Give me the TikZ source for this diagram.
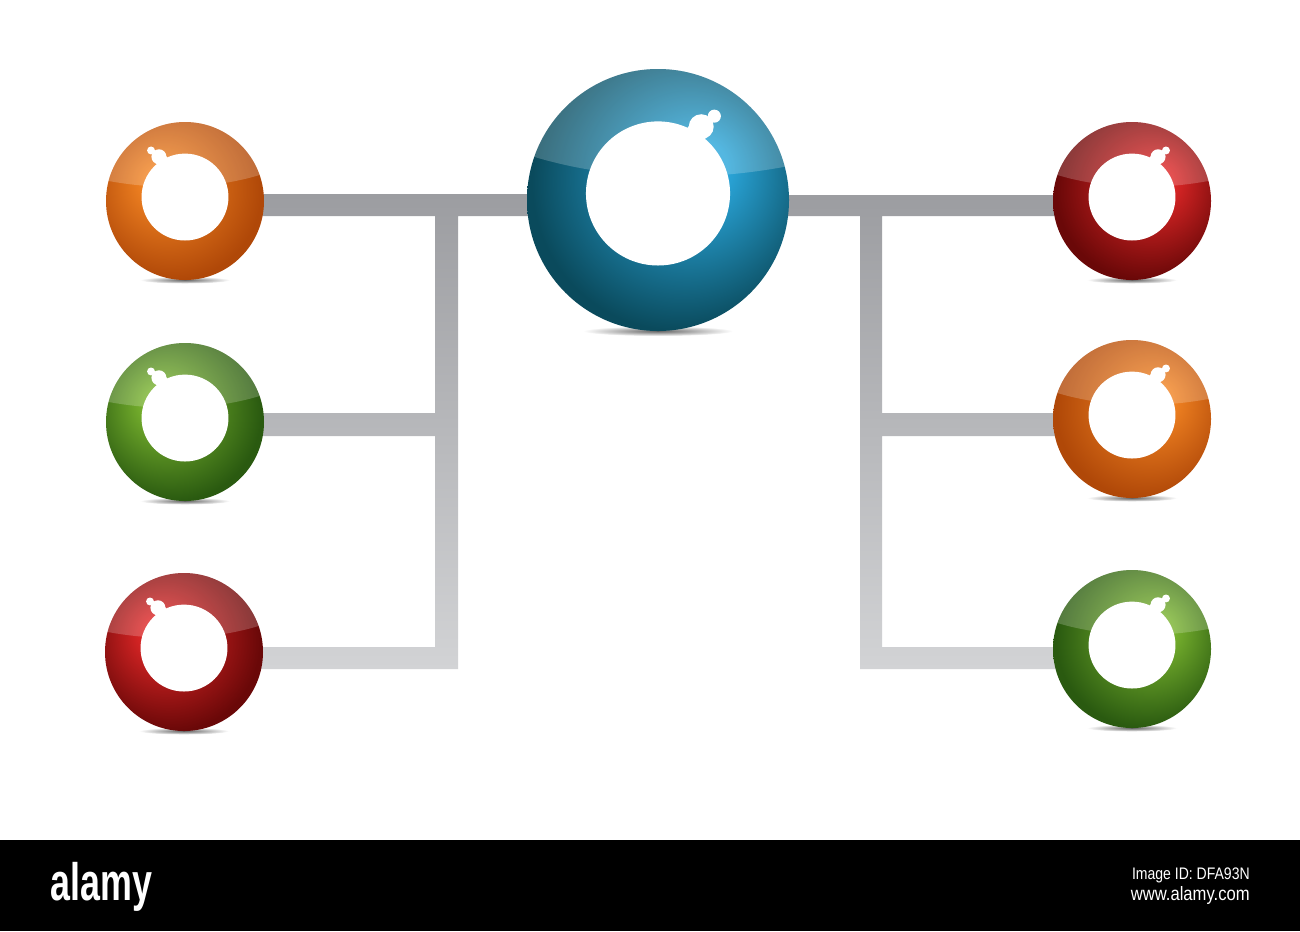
\documentclass[tikz,border=0pt]{standalone}
\usepackage{fontspec}
\newfontfamily\bandfont{Liberation Sans}
\usetikzlibrary{calc,backgrounds}
\definecolor{bluL}{HTML}{2AA6DA}\definecolor{bluD}{HTML}{0A4A5C}
\definecolor{orL}{HTML}{F08222}\definecolor{orD}{HTML}{B04808}
\definecolor{grL}{HTML}{78B22E}\definecolor{grD}{HTML}{2A5A10}
\definecolor{reL}{HTML}{DC2626}\definecolor{reD}{HTML}{6A0808}
\definecolor{barTop}{HTML}{9C9DA1}\definecolor{barMid}{HTML}{ABACB0}\definecolor{barBot}{HTML}{D2D3D5}
\colorlet{sphL}{white}\colorlet{sphD}{black}
\pgfdeclareradialshading[sphL,sphD]{sphRt}{\pgfpoint{9bp}{7bp}}{color(0bp)=(sphL);color(5bp)=(sphL);color(28bp)=(sphD);color(50bp)=(sphD)}
\pgfdeclareradialshading[sphL,sphD]{sphLt}{\pgfpoint{-9bp}{7bp}}{color(0bp)=(sphL);color(5bp)=(sphL);color(28bp)=(sphD);color(50bp)=(sphD)}
\tikzset{
  sphcol/.code 2 args={\colorlet{sphL}{#1}\colorlet{sphD}{#2}},
  sph/.style n args={5}{circle, inner sep=0pt, minimum size={2*#1*0.02cm}, shade, shading=#5, sphcol={#2}{#3},
    path picture={
      \coordinate (pc) at (path picture bounding box.center);
      \fill[white, fill opacity=.2] ($(pc)+(-1.1*#1,{-(0.33+0.05*#4)*#1})$) .. controls ($(pc)+(-0.4*#1,-0.13*#1)$) and ($(pc)+(0.4*#1,-0.13*#1)$) .. ($(pc)+(1.1*#1,{-(0.33-0.05*#4)*#1})$) -- ($(pc)+(1.1*#1,-1.1*#1)$) -- ($(pc)+(-1.1*#1,-1.1*#1)$) -- cycle;
      \fill[white] ($(pc)+(0,-0.05*#1)$) circle[radius=0.55*#1];
      \fill[white] ($(pc)+({#4*0.33*#1},-0.56*#1)$) circle[radius=0.095*#1];
      \fill[white] ($(pc)+({#4*0.30*#1},-0.52*#1)$) circle[radius=0.08*#1];
      \fill[white] ($(pc)+({#4*0.43*#1},-0.64*#1)$) circle[radius=0.05*#1];
    }},
  bar/.style={top color=barTop, middle color=barMid, bottom color=barBot},
  shadow/.style={inner color=black!60, outer color=white},
}
\begin{document}
\begin{tikzpicture}[x=0.02cm,y=-0.02cm]
\useasboundingbox (0,0) rectangle (1300,931);
% shadows
\shade[shadow] (658,331) ellipse[x radius=75, y radius=5];
\foreach \cx/\cy in {185/280,185/501,184/731,1132/280,1132/498,1132/728}
  \shade[shadow] (\cx,\cy) ellipse[x radius=45, y radius=3.5];
% spheres
\node[sph={131}{bluL}{bluD}{1}{sphRt}] (C) at (658,200) {};
\node[sph={79}{orL}{orD}{-1}{sphLt}] (L1) at (185,201) {};
\node[sph={79}{grL}{grD}{-1}{sphLt}] (L2) at (185,422) {};
\node[sph={79}{reL}{reD}{-1}{sphLt}] (L3) at (184,652) {};
\node[sph={79}{reL}{reD}{1}{sphRt}] (R1) at (1132,201) {};
\node[sph={79}{orL}{orD}{1}{sphRt}] (R2) at (1132,419) {};
\node[sph={79}{grL}{grD}{1}{sphRt}] (R3) at (1132,649) {};
% connectors
\coordinate (JL) at (446,194);
\coordinate (JR) at (871,195);
\begin{scope}[on background layer]
\fill[white] (0,0) rectangle (1300,840);
\shade[bar] (L1.center) ++(0,-7) rectangle ($(C.center)+(0,16)$)
  (JL) ++(-11,0) rectangle ++(23,475)
  (L2.center) ++(0,-9) rectangle ($(JL)+(12,242)$)
  (L3.center) ++(0,-5) rectangle ($(JL)+(12,475)$);
\shade[bar] (C.center) ++(0,-5) rectangle ($(R1.center)+(0,15)$)
  (JR) ++(-11,0) rectangle ++(22,474)
  (R2.center) ++(0,-6) rectangle ($(JR)+(11,241)$)
  (R3.center) ++(0,-2) rectangle ($(JR)+(11,474)$);
\end{scope}
% bottom band
\fill[black] (0,840) rectangle (1300,931);
\node[anchor=base west, inner sep=0pt, text=white, font=\bandfont\bfseries\fontsize{30}{30}\selectfont] (logo) at (50,900) {\scalebox{0.68}[1]{alamy}};
\node[anchor=base east, inner sep=0pt, text=white, font=\bandfont\fontsize{9.5}{10}\selectfont] (imgid) at (1250,879) {\scalebox{0.84}[1]{Image ID: DFA93N}};
\node[anchor=base east, inner sep=0pt, text=white, font=\bandfont\fontsize{11}{12}\selectfont] (web) at (1250,900) {\scalebox{0.86}[1]{www.alamy.com}};
\end{tikzpicture}
\end{document}
